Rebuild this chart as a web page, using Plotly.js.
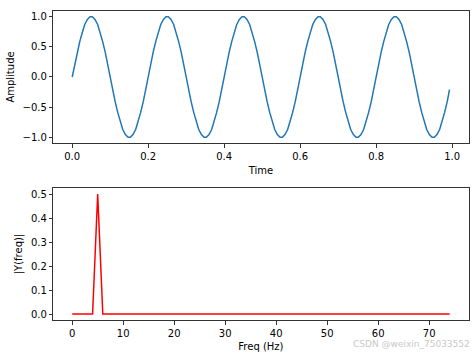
<!DOCTYPE html>
<html>
<head>
<meta charset="utf-8">
<script src="https://cdn.plot.ly/plotly-3.0.1.min.js"></script>
<style>html,body{margin:0;padding:0;background:#fff;}#chart{width:474px;height:354px;}</style>
</head>
<body>
<div id="chart"></div>
<script>
// Time samples (s), 150 samples over one second
const timeValues = [
  0,0.007,0.013,0.02,0.027,0.033,0.04,0.047,0.053,0.06,0.067,0.073,0.08,0.087,0.093,
  0.1,0.107,0.113,0.12,0.127,0.133,0.14,0.147,0.153,0.16,0.167,0.173,0.18,0.187,0.193,
  0.2,0.207,0.213,0.22,0.227,0.233,0.24,0.247,0.253,0.26,0.267,0.273,0.28,0.287,0.293,
  0.3,0.307,0.313,0.32,0.327,0.333,0.34,0.347,0.353,0.36,0.367,0.373,0.38,0.387,0.393,
  0.4,0.407,0.413,0.42,0.427,0.433,0.44,0.447,0.453,0.46,0.467,0.473,0.48,0.487,0.493,
  0.5,0.507,0.513,0.52,0.527,0.533,0.54,0.547,0.553,0.56,0.567,0.573,0.58,0.587,0.593,
  0.6,0.607,0.613,0.62,0.627,0.633,0.64,0.647,0.653,0.66,0.667,0.673,0.68,0.687,0.693,
  0.7,0.707,0.713,0.72,0.727,0.733,0.74,0.747,0.753,0.76,0.767,0.773,0.78,0.787,0.793,
  0.8,0.807,0.813,0.82,0.827,0.833,0.84,0.847,0.853,0.86,0.867,0.873,0.88,0.887,0.893,
  0.9,0.907,0.913,0.92,0.927,0.933,0.94,0.947,0.953,0.96,0.967,0.973,0.98,0.987,0.993
];
// Amplitude of the 5 Hz signal at each sample
const amplitudeValues = [
  0,0.208,0.407,0.588,0.743,0.866,0.951,0.995,0.995,0.951,0.866,0.743,0.588,0.407,0.208,
  0,-0.208,-0.407,-0.588,-0.743,-0.866,-0.951,-0.995,-0.995,-0.951,-0.866,-0.743,-0.588,-0.407,-0.208,
  0,0.208,0.407,0.588,0.743,0.866,0.951,0.995,0.995,0.951,0.866,0.743,0.588,0.407,0.208,
  0,-0.208,-0.407,-0.588,-0.743,-0.866,-0.951,-0.995,-0.995,-0.951,-0.866,-0.743,-0.588,-0.407,-0.208,
  0,0.208,0.407,0.588,0.743,0.866,0.951,0.995,0.995,0.951,0.866,0.743,0.588,0.407,0.208,
  0,-0.208,-0.407,-0.588,-0.743,-0.866,-0.951,-0.995,-0.995,-0.951,-0.866,-0.743,-0.588,-0.407,-0.208,
  0,0.208,0.407,0.588,0.743,0.866,0.951,0.995,0.995,0.951,0.866,0.743,0.588,0.407,0.208,
  0,-0.208,-0.407,-0.588,-0.743,-0.866,-0.951,-0.995,-0.995,-0.951,-0.866,-0.743,-0.588,-0.407,-0.208,
  0,0.208,0.407,0.588,0.743,0.866,0.951,0.995,0.995,0.951,0.866,0.743,0.588,0.407,0.208,
  0,-0.208,-0.407,-0.588,-0.743,-0.866,-0.951,-0.995,-0.995,-0.951,-0.866,-0.743,-0.588,-0.407,-0.208
];
// Frequency bins (Hz)
const freqValues = [
  0,1,2,3,4,5,6,7,8,9,10,11,12,13,14,15,16,17,18,19,20,21,22,23,24,
  25,26,27,28,29,30,31,32,33,34,35,36,37,38,39,40,41,42,43,44,45,46,47,48,49,
  50,51,52,53,54,55,56,57,58,59,60,61,62,63,64,65,66,67,68,69,70,71,72,73,74
];
// Spectrum magnitude |Y(freq)|
const magnitudeValues = [
  0,0,0,0,0,0.5,0,0,0,0,0,0,0,0,0,0,0,0,0,0,0,0,0,0,0,
  0,0,0,0,0,0,0,0,0,0,0,0,0,0,0,0,0,0,0,0,0,0,0,0,0,
  0,0,0,0,0,0,0,0,0,0,0,0,0,0,0,0,0,0,0,0,0,0,0,0,0
];
const topTicks = [0, 0.2, 0.4, 0.6, 0.8, 1.0];
const topTickText = ['0.0', '0.2', '0.4', '0.6', '0.8', '1.0'];
const ampTicks = [-1, -0.5, 0, 0.5, 1];
const ampTickText = ['\u22121.0', '\u22120.5', '0.0', '0.5', '1.0'];
const freqTicks = [0, 10, 20, 30, 40, 50, 60, 70];
const magTicks = [0, 0.1, 0.2, 0.3, 0.4, 0.5];
const magTickText = ['0.0', '0.1', '0.2', '0.3', '0.4', '0.5'];

const font = {family: 'DejaVu Sans', size: 10, color: '#000'};
const axisBase = {
  showline: true, linecolor: '#333', linewidth: 1, mirror: true,
  ticks: 'outside', ticklen: 3.5, tickwidth: 1, tickcolor: '#333',
  showgrid: false, zeroline: false, tickfont: font, automargin: false
};

const traces = [
  {x: timeValues, y: amplitudeValues, type: 'scatter', mode: 'lines',
   line: {color: '#1f77b4', width: 1.5}, xaxis: 'x', yaxis: 'y', hoverinfo: 'skip'},
  {x: freqValues, y: magnitudeValues, type: 'scatter', mode: 'lines',
   line: {color: '#ff0000', width: 1.5}, xaxis: 'x2', yaxis: 'y2', hoverinfo: 'skip'}
];

const layout = {
  width: 474, height: 354,
  margin: {l: 0, r: 0, t: 0, b: 0},
  paper_bgcolor: '#fff', plot_bgcolor: '#fff',
  showlegend: false,
  font: font,
  xaxis: Object.assign({}, axisBase, {
    domain: [0.1125, 0.9884], range: [-0.0497, 1.043], anchor: 'y',
    tickmode: 'array', tickvals: topTicks, ticktext: topTickText,
    title: {text: 'Time', font: font, standoff: 6}
  }),
  yaxis: Object.assign({}, axisBase, {
    domain: [0.5952, 0.9698], range: [-1.094, 1.094], anchor: 'x',
    tickmode: 'array', tickvals: ampTicks, ticktext: ampTickText,
    title: {text: 'Amplitude', font: font, standoff: 6}
  }),
  xaxis2: Object.assign({}, axisBase, {
    domain: [0.1125, 0.9884], range: [-3.7, 77.7], anchor: 'y2',
    tickmode: 'array', tickvals: freqTicks,
    title: {text: 'Freq (Hz)', font: font, standoff: 5}
  }),
  yaxis2: Object.assign({}, axisBase, {
    domain: [0.096, 0.4689], range: [-0.025, 0.525], anchor: 'x2',
    tickmode: 'array', tickvals: magTicks, ticktext: magTickText,
    title: {text: '|Y(freq)|', font: font, standoff: 6}
  }),
  annotations: [
    {text: 'CSDN @weixin_75033552', xref: 'paper', yref: 'paper', x: 0.995, y: 0.008,
     xanchor: 'right', yanchor: 'bottom', showarrow: false,
     font: {family: 'DejaVu Sans', size: 9, color: '#c8c8c8'}}
  ]
};

Plotly.newPlot('chart', traces, layout, {staticPlot: true, displayModeBar: false});
</script>
</body>
</html>
